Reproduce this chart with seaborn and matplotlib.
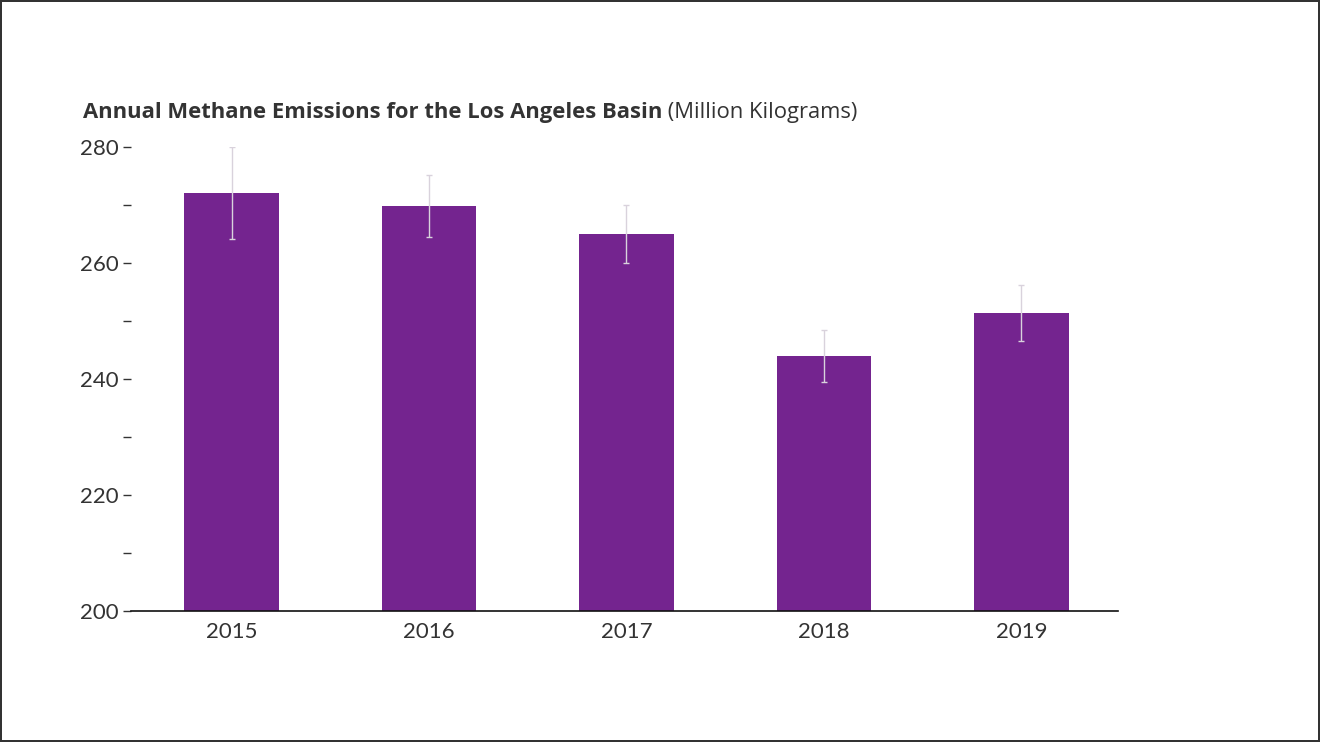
import matplotlib
matplotlib.use("Agg")
import matplotlib.pyplot as plt
import pandas as pd
import seaborn as sns

# Data
years = ["2015", "2016", "2017", "2018", "2019"]
emissions = [272.1, 269.8, 265.0, 244.0, 251.4]
uncertainty = [7.9, 5.4, 5.0, 4.5, 4.8]

df = pd.DataFrame({"year": years, "emissions": emissions})

sns.set_theme(style="white")
plt.rcParams["font.family"] = ["Lato", "DejaVu Sans"]

fig = plt.figure(figsize=(13.2, 7.42), dpi=100)
fig.patch.set_edgecolor("#333333")
fig.patch.set_linewidth(1.5)
ax = fig.add_axes([0.0992, 0.1765, 0.7478, 0.6254])

sns.barplot(data=df, x="year", y="emissions", color="#74248f", saturation=1,
            width=0.48, errorbar=None, ax=ax)
for p in ax.patches:
    p.set_edgecolor("none")

ax.errorbar(range(len(years)), emissions, yerr=uncertainty, fmt="none",
            ecolor="#d9d2dc", elinewidth=1, capsize=2, capthick=1)

ax.set_ylim(200, 280)
ax.set_xlim(-0.51, 4.49)
ax.set_yticks([200, 210, 220, 230, 240, 250, 260, 270, 280])
ax.set_yticklabels(["200", "", "220", "", "240", "", "260", "", "280"])
ax.tick_params(axis="y", left=True, length=6, width=1, color="#333333",
               labelsize=16, labelcolor="#333333", pad=3)
ax.tick_params(axis="x", bottom=False, labelsize=16, labelcolor="#333333", pad=2)
ax.set_xlabel("")
ax.set_ylabel("")

sns.despine(ax=ax, left=True, top=True, right=True)
ax.spines["bottom"].set_color("#111111")
ax.spines["bottom"].set_linewidth(1.2)

# Title: bold part followed by a regular part
title_font = ["Open Sans", "DejaVu Sans"]
t1 = fig.text(83 / 1320, 1 - 118 / 742, "Annual Methane Emissions for the Los Angeles Basin",
              fontsize=15.8, fontweight="bold", color="#333333", ha="left", va="baseline",
              family=title_font)
ax.annotate(" (Million Kilograms)", xy=(1, 0), xycoords=t1, fontsize=15.8,
            color="#333333", ha="left", va="bottom", family=title_font)

fig.savefig("out.png", dpi=100, edgecolor=fig.get_edgecolor())
